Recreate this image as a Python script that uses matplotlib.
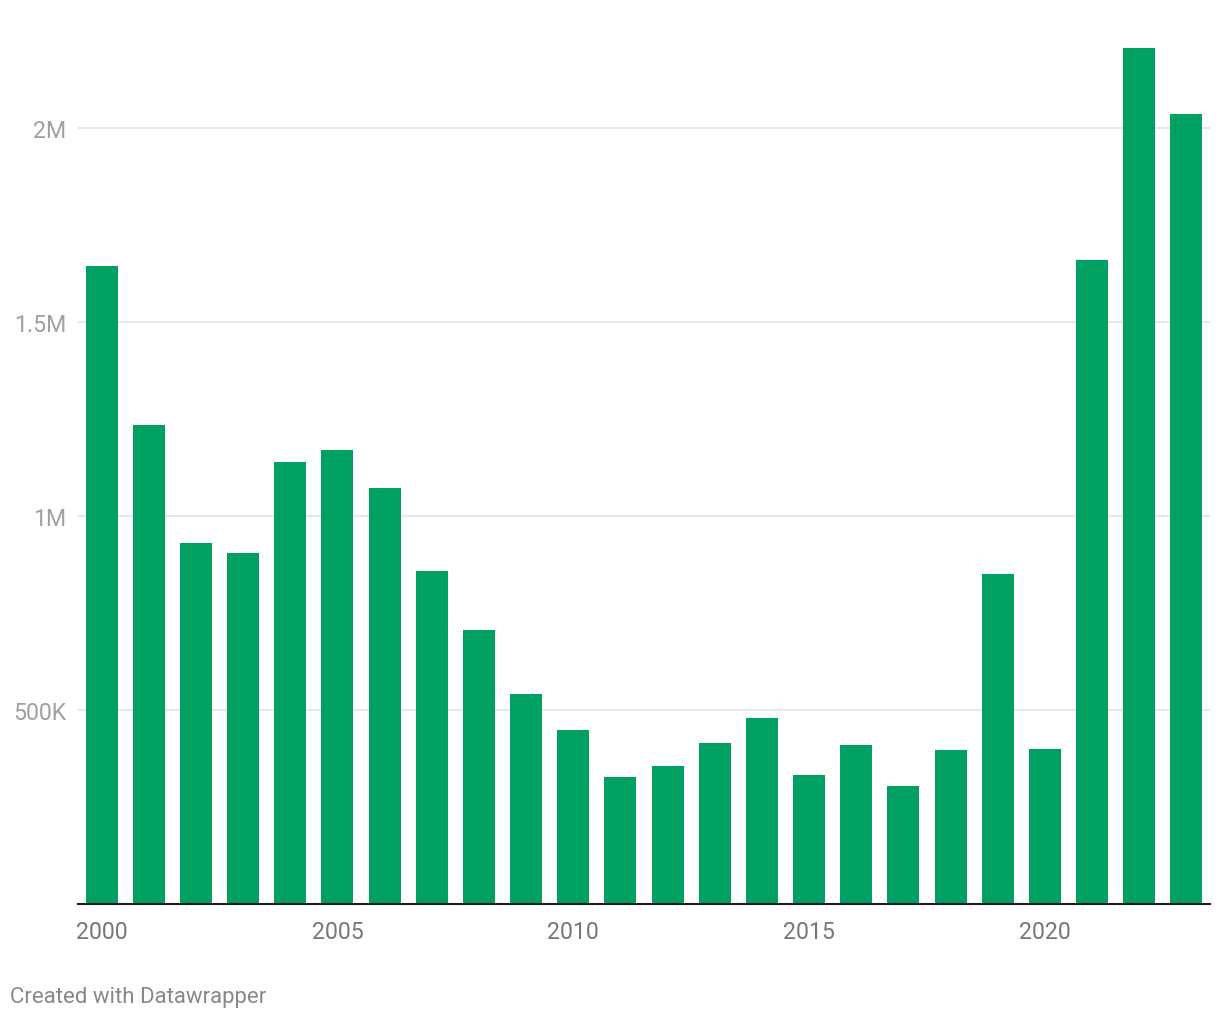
import matplotlib
matplotlib.use("Agg")
import matplotlib.pyplot as plt
from matplotlib.ticker import FixedLocator, FixedFormatter

years = list(range(2000, 2024))
values = [1644000, 1235000, 930000, 905000, 1139000, 1170000, 1072000, 858000,
          706000, 541000, 448000, 327000, 356000, 415000, 479000, 332000,
          410000, 304000, 397000, 851000, 399000, 1660000, 2206000, 2036000]
y_ticks = [500000, 1000000, 1500000, 2000000]
y_tick_labels = ["500K", "1M", "1.5M", "2M"]
x_ticks = [2000, 2005, 2010, 2015, 2020]
x_tick_labels = ["2000", "2005", "2010", "2015", "2020"]

plt.rcParams['font.family'] = ['Roboto', 'DejaVu Sans']

fig = plt.figure(figsize=(12.2, 10.2), dpi=100)
ax = fig.add_axes([78/1220, 1-905/1020, (1210-78)/1220, (905-41)/1020])

ax.bar(years, values, width=0.68, color='#00a062', zorder=3)
ax.set_xlim(1999.5, 2023.5)
ax.set_ylim(0, (905-41)/0.388*1000)

for t in y_ticks:
    ax.axhline(t, color='#e3e3e3', lw=1.2, zorder=1)

ax.yaxis.set_major_locator(FixedLocator(y_ticks))
ax.yaxis.set_major_formatter(FixedFormatter(y_tick_labels))
ax.xaxis.set_major_locator(FixedLocator(x_ticks))
ax.xaxis.set_major_formatter(FixedFormatter(x_tick_labels))

ax.tick_params(axis='y', length=0, pad=8.6, labelsize=16.7, labelcolor='#a0a0a0')
ax.tick_params(axis='x', length=0, pad=11.5, labelsize=16.7, labelcolor='#777777')

for s in ['top', 'right', 'left']:
    ax.spines[s].set_visible(False)
ax.spines['bottom'].set_color('#1d1d1d')
ax.spines['bottom'].set_linewidth(1.5)
ax.spines['bottom'].set_zorder(4)

fig.text(10/1220, 1-998/1020, "Created with Datawrapper", fontsize=16,
         color='#888888', ha='left', va='center')

fig.savefig("out.png", dpi=100)
